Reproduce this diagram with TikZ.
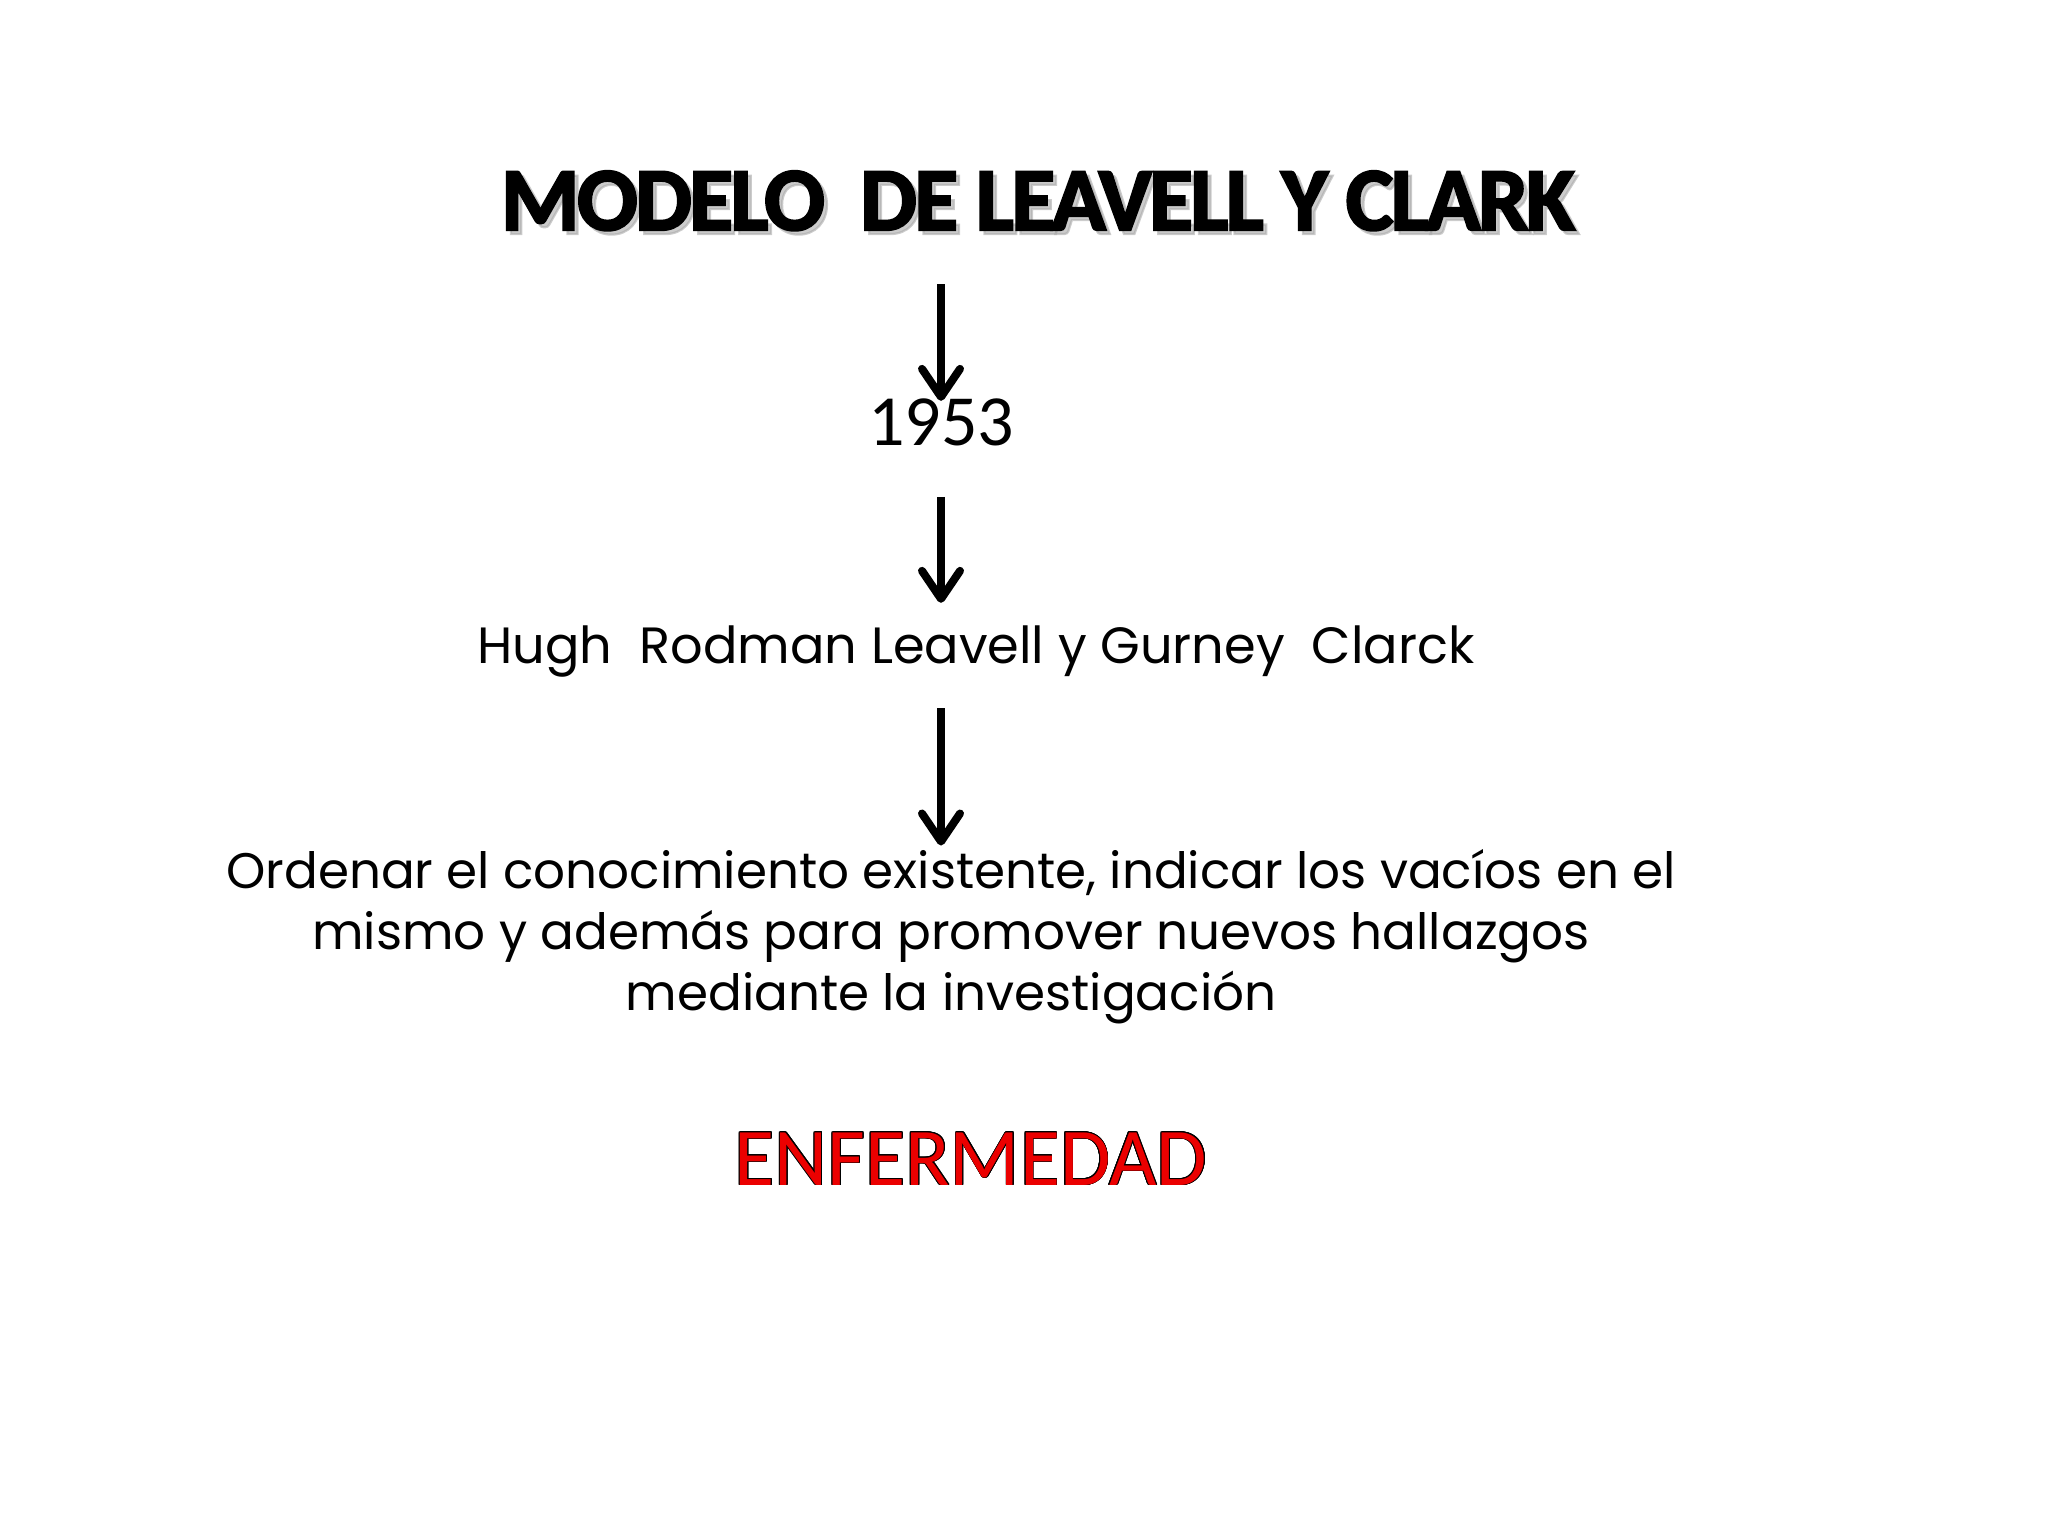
\documentclass[tikz,border=0pt]{standalone}
\usepackage{fontspec}
\usepackage{contour}
\usetikzlibrary{arrows.meta}
\setmainfont{Poppins}
\newfontfamily\titlefont[BoldFeatures={FakeBold=2.5},LetterSpace=-3]{Carlito}
\newfontfamily\yearfont{Carlito}
\contourlength{0.45pt}
\definecolor{shadowgray}{RGB}{170,170,170}
\definecolor{wordred}{RGB}{235,0,0}
\tikzset{
  titletext/.style={inner sep=0pt, anchor=base, font={\titlefont\bfseries\fontsize{45}{50}\selectfont}},
  plaintext/.style={inner sep=0pt, anchor=base, font={\fontsize{25.5}{30.5}\selectfont}},
  arrowdown/.style={line width=4pt, -{Straight Barb[length=14pt,width=19pt,line cap=round,line join=round]}},
}
\begin{document}
\begin{tikzpicture}[x=0.5pt,y=0.5pt,yscale=-1,xscale=1]
\useasboundingbox (0,0) rectangle (2048,1536);

% Title with shadow
\node [titletext, text=shadowgray, opacity=0.6] (titleshadow) at (1042,234) {MODELO\ \ DE LEAVELL Y CLARK};
\node [titletext] (title) at (1038,230) {MODELO\ \ DE LEAVELL Y CLARK};

% Text Node
\node [inner sep=0pt, anchor=base, font={\yearfont\fontsize{36}{40}\selectfont}] (year) at (941,445) {1953};
% Text Node
\node [plaintext] (authors) at (976,663) {Hugh\ \ Rodman Leavell y Gurney\ \ Clarck};
% Text Node
\node [plaintext, font={\fontsize{25}{30.5}\selectfont}, align=center] (purpose) at (951,1010) {Ordenar el conocimiento existente, indicar los vacíos en el\\ mismo y además para promover nuevos hallazgos\\ mediante la investigación};
% Text Node
\node [inner sep=0pt, anchor=base, font={\yearfont\fontsize{41}{45}\selectfont}] (disease) at (971,1185) {\contour{black}{\textcolor{wordred}{ENFERMEDAD}}};

% Arrows
\draw [arrowdown, shorten <=26.5pt, shorten >=-1.5pt] (year.north |- title.south) -- (year.north);
\draw [arrowdown, shorten <=25.5pt, shorten >=11pt] (year.south) -- (year.south |- authors.north);
\draw [arrowdown, shorten <=15.5pt, shorten >=1.5pt] (year.south |- authors.south) -- (year.south |- purpose.north);

\end{tikzpicture}
\end{document}
